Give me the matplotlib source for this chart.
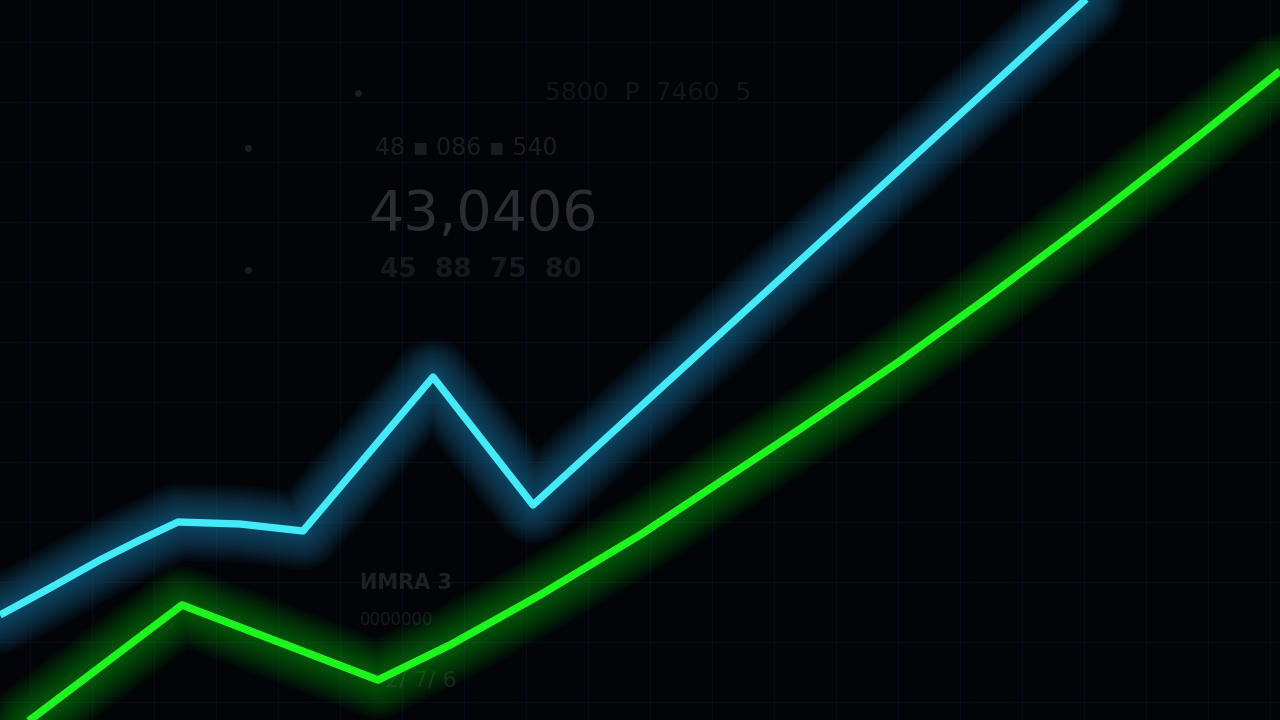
import matplotlib
matplotlib.use("Agg")
import matplotlib.pyplot as plt
import numpy as np

# ---- data (abstract chart units) ----
cyan_x = [0, 50, 100, 140, 178, 240, 303, 433, 533, 1085, 1180]
cyan_y = [105, 132, 160, 180, 198, 196, 189, 343, 215, 720, 807]

green_x = [0, 30, 182, 378, 450, 540, 640, 720, 800, 900, 987, 1100, 1200, 1280]
green_y = [-23, 0, 115, 40, 75, 125, 185, 238, 291, 359, 422, 507, 585, 649]

big_value = "43,0406"

BG = "#020408"
CYAN = "#44eaf7"
CYAN_GLOW = "#2aa6e0"
GREEN = "#1ef51e"
GREEN_GLOW = "#14c814"

fig = plt.figure(figsize=(12.8, 7.2), dpi=100, facecolor=BG)
ax = fig.add_axes([0, 0, 1, 1])
ax.set_facecolor(BG)
ax.set_xlim(0, 1280)
ax.set_ylim(0, 720)
ax.axis("off")

# faint grid
for gx in np.arange(30, 1280, 62):
    ax.axvline(gx, color="#0a1522", lw=0.8, alpha=0.5, zorder=0)
for gy in np.arange(18, 720, 60):
    ax.axhline(gy, color="#0a1522", lw=0.8, alpha=0.5, zorder=0)

# faint background text
txtc = "#2a2e33"
ax.text(368, 505, big_value, color=txtc, fontsize=40, family="DejaVu Sans",
        ha="left", va="center", zorder=1)
ax.text(375, 572, "48 ▪ 086 ▪ 540", color="#191c20", fontsize=17, ha="left", va="center", zorder=1)
ax.text(380, 450, "45  88  75  80", color="#15181c", fontsize=19, ha="left", va="center", zorder=1, fontweight="bold")
ax.text(545, 627, "5800  P  7460  5", color="#111419", fontsize=18, ha="left", va="center", zorder=1)
ax.text(360, 137, "ИMRA 3", color="#1c2024", fontsize=15, ha="left", va="center", zorder=1, fontweight="bold")
ax.text(360, 100, "0000000", color="#161a1e", fontsize=12, ha="left", va="center", zorder=1)
ax.text(385, 40, "2/ 7/ 6", color="#181b1f", fontsize=16, ha="left", va="center", zorder=1)
for (dx, dy) in [(248, 572), (248, 450), (358, 627)]:
    ax.plot(dx, dy, "o", ms=4, color="#1a1d22", zorder=1)

def glow_line(x, y, color, glow, core_lw):
    for lw in np.linspace(56, 7, 18):
        ax.plot(x, y, color=glow, lw=lw, alpha=0.032, solid_joinstyle="round",
                solid_capstyle="round", zorder=2)
    ax.plot(x, y, color=color, lw=core_lw, solid_joinstyle="round",
            solid_capstyle="butt", zorder=3)

glow_line(green_x, green_y, GREEN, GREEN_GLOW, 5.5)
glow_line(cyan_x, cyan_y, CYAN, CYAN_GLOW, 5.3)

fig.savefig("out.png", dpi=100, facecolor=BG)
